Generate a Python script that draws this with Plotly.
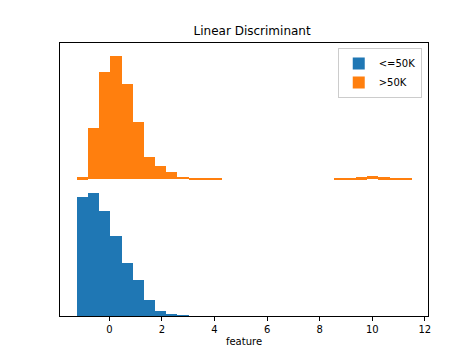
import plotly.graph_objects as go

# Histogram data (heights normalized so the tallest bar of each class = 1)
bin_start = -1.239
bin_width = 0.425
n_bins = 30

low_income = [0.967, 1.0, 0.85, 0.65, 0.428, 0.293, 0.13, 0.043, 0.011, 0.005,
              0, 0, 0, 0, 0, 0, 0, 0, 0, 0,
              0, 0, 0, 0, 0, 0, 0, 0, 0, 0]
high_income = [0.016, 0.415, 0.867, 1.0, 0.772, 0.466, 0.181, 0.108, 0.054, 0.02,
               0.012, 0.007, 0.004, 0, 0, 0, 0, 0, 0, 0,
               0, 0, 0, 0.006, 0.012, 0.016, 0.024, 0.016, 0.008, 0.004]
series_names = ["<=50K", ">50K"]
series_colors = ["#1f77b4", "#ff7f0e"]
offsets = [0.0, 1.114]

tick_vals = [0, 2, 4, 6, 8, 10, 12]

centers = [bin_start + bin_width * (i + 0.5) for i in range(n_bins)]

fig = go.Figure()
for vals, name, color, off in zip([low_income, high_income], series_names, series_colors, offsets):
    fig.add_trace(go.Bar(
        x=centers, y=vals, base=[off] * n_bins, width=[bin_width] * n_bins,
        name=name, marker=dict(color=color, line=dict(width=0)),
    ))

fig.update_layout(
    width=474, height=355,
    margin=dict(l=52, r=54, t=35, b=47),
    paper_bgcolor="white", plot_bgcolor="white",
    barmode="overlay", bargap=0,
    font=dict(family="DejaVu Sans", size=10, color="black"),
    title=dict(text="Linear Discriminant", x=0.515, xanchor="center",
               y=1 - 23 / 355, yanchor="middle", font=dict(size=12)),
    showlegend=True,
    legend=dict(x=0.983, y=0.982, xanchor="right", yanchor="top",
                bordercolor="#cccccc", borderwidth=1, bgcolor="rgba(255,255,255,0.8)",
                font=dict(size=10), traceorder="normal",
                itemwidth=30, tracegroupgap=0),
)
fig.update_xaxes(
    range=[-1.88, 12.12], tickvals=tick_vals, ticks="outside", ticklen=4,
    tickwidth=0.8, tickcolor="black", showline=True, linecolor="black", linewidth=0.8,
    mirror=True, showgrid=False, zeroline=False,
    title=dict(text="feature", font=dict(size=10), standoff=4),
)
fig.update_yaxes(
    range=[0, 2.22], showticklabels=False, ticks="", showline=True, linecolor="black",
    linewidth=0.8, mirror=True, showgrid=False, zeroline=False,
)

fig.write_html("out.html")
